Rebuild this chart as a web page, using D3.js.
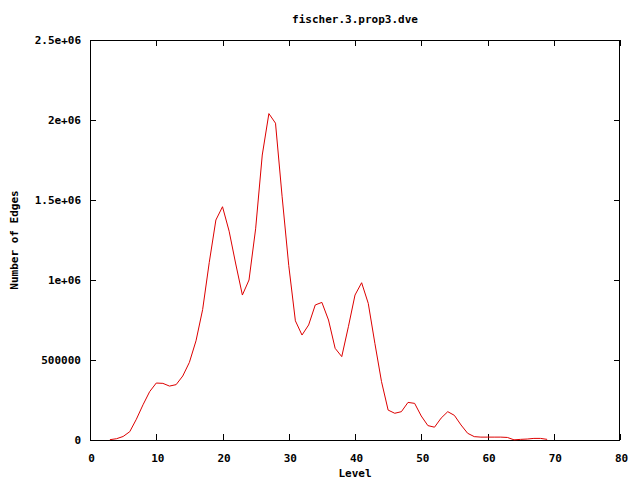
<!DOCTYPE html>
<html><head><meta charset="utf-8">
<script src="https://cdn.jsdelivr.net/npm/d3@7"></script>
<style>
body{margin:0;background:#fff;}
text{font-family:"DejaVu Sans Mono",monospace;font-weight:bold;font-size:11px;fill:#000;}
</style></head>
<body><svg id="c" width="640" height="480"></svg>
<script>
const title = "fischer.3.prop3.dve";
const xLabel = "Level";
const yLabel = "Number of Edges";
const levels = [3,4,5,6,7,8,9,10,11,12,13,14,15,16,17,18,19,20,21,22,23,24,25,26,27,28,29,30,31,32,33,34,35,36,37,38,39,40,41,42,43,44,45,46,47,48,49,50,51,52,53,54,55,56,57,58,59,60,61,62,63,64,65,66,67,68,69];
const edges = [2000,8000,22000,52000,130000,220000,302000,356000,354000,337000,346000,400000,485000,620000,815000,1110000,1375000,1458000,1305000,1100000,906000,1000000,1320000,1781000,2040000,1980000,1520000,1090000,745000,656000,719000,844000,860000,750000,573000,521000,708000,906000,983000,854000,604000,365000,187000,167000,177000,235000,229000,150000,90000,80000,137000,177000,154000,94000,42000,21000,18000,18000,18000,18000,16000,1000,4000,6000,10000,10000,4000];
const xTicks = [0,10,20,30,40,50,60,70,80];
const yTicks = [0,500000,1000000,1500000,2000000,2500000];
const yTickLabels = ["0","500000","1e+06","1.5e+06","2e+06","2.5e+06"];

const L=90,R=620,T=40,B=440;
const svg=d3.select("#c");
const x=d3.scaleLinear().domain([0,80]).range([L,R]);
const y=d3.scaleLinear().domain([0,2500000]).range([B,T]);
const tl=6;

// bottom axis (ticks inward)
const gb=svg.append("g").attr("transform",`translate(0,${B})`)
  .call(d3.axisBottom(x).tickValues(xTicks).tickSizeInner(-tl).tickSizeOuter(0).tickPadding(tl+8).tickFormat(d3.format("d")));
const gt=svg.append("g").attr("transform",`translate(0,${T})`)
  .call(d3.axisTop(x).tickValues(xTicks).tickSizeInner(-tl).tickSizeOuter(0).tickFormat(""));
const gl=svg.append("g").attr("transform",`translate(${L},0)`)
  .call(d3.axisLeft(y).tickValues(yTicks).tickSizeInner(-tl).tickSizeOuter(0).tickPadding(tl+3).tickFormat((d,i)=>yTickLabels[i]));
const gr=svg.append("g").attr("transform",`translate(${R},0)`)
  .call(d3.axisRight(y).tickValues(yTicks).tickSizeInner(-tl).tickSizeOuter(0).tickFormat(""));
[gb,gt,gl,gr].forEach(g=>{
  g.select(".domain").remove();
  g.selectAll("line").attr("stroke","#000").attr("shape-rendering","crispEdges");
  g.selectAll("text").attr("font-family",null).attr("font-size",null).attr("fill",null);
});
gb.selectAll("text").attr("dx",1);

svg.append("rect").attr("x",L+0.5).attr("y",T+0.5).attr("width",R-L-1).attr("height",B-T)
  .attr("fill","none").attr("stroke","#000").attr("shape-rendering","crispEdges");

const line=d3.line().x((d,i)=>x(levels[i])).y(d=>y(d));
svg.append("path").datum(edges).attr("d",line).attr("fill","none")
  .attr("stroke","#dd0000").attr("stroke-width",1);

svg.append("text").attr("x",355).attr("y",23).attr("text-anchor","middle").text(title);
svg.append("text").attr("x",355).attr("y",477).attr("text-anchor","middle").text(xLabel);
svg.append("text").attr("transform","translate(18,240) rotate(-90)").attr("text-anchor","middle").text(yLabel);
</script></body></html>
